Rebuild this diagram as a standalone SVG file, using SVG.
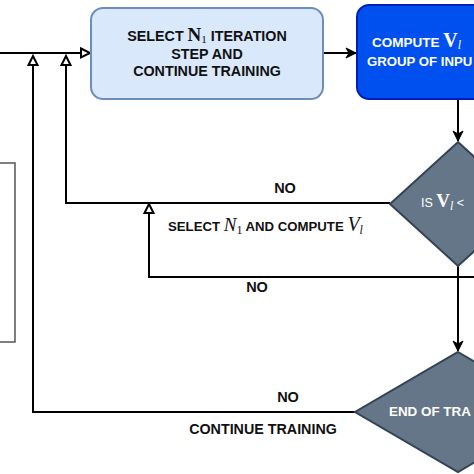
<svg xmlns="http://www.w3.org/2000/svg" width="474" height="474" viewBox="0 0 474 474">
<style>
.ln{fill:none;stroke:#000;stroke-width:2}
.lbl{font-family:"Liberation Sans",Arial,sans-serif;font-weight:bold;fill:#111}
.mth{font-family:"Liberation Serif","Times New Roman",serif}
.dia{fill:#647687;stroke:#314354;stroke-width:2}
</style>
<defs>
<marker id="open" markerUnits="userSpaceOnUse" markerWidth="14" markerHeight="14" refX="11" refY="6" orient="auto">
<path d="M2,1.5 L11,6 L2,10.5 Z" fill="#fff" stroke="#000" stroke-width="2"/>
</marker>
<marker id="fill" markerUnits="userSpaceOnUse" markerWidth="14" markerHeight="14" refX="11" refY="6" orient="auto">
<path d="M1,1 L11,6 L1,11 L4,6 Z" fill="#000" stroke="#000" stroke-width="1"/>
</marker>
</defs>
<rect x="-20" y="163" width="35" height="179" fill="#fff" stroke="#555" stroke-width="1.5"/>
<g id="connectors">
<path class="ln" d="M0,53 L90,53" marker-end="url(#open)"/>
<path class="ln" d="M323,53 L356,53" marker-end="url(#fill)"/>
<path class="ln" d="M458,99 L458,141" marker-end="url(#fill)"/>
<path class="ln" d="M390,203 L66,203 L66,56" marker-end="url(#open)"/>
<path class="ln" d="M474,277 L149,277 L149,204" marker-end="url(#open)"/>
<path class="ln" d="M458,266 L458,351" marker-end="url(#fill)"/>
<path class="ln" d="M355,412 L33,412 L33,56" marker-end="url(#open)"/>
</g>
<g id="n_select">
<rect x="91" y="8" width="232" height="91" rx="12" fill="#dae8fc" stroke="#6c8ebf" stroke-width="2"/>
<text class="lbl" font-size="14.3" x="207" y="41" text-anchor="middle">SELECT <tspan class="mth" font-size="19">N</tspan><tspan class="mth" font-weight="normal" font-size="11" dy="2">1</tspan><tspan dy="-2"> ITERATION</tspan></text>
<text class="lbl" font-size="14.3" x="207" y="59" text-anchor="middle">STEP AND</text>
<text class="lbl" font-size="14.3" x="207" y="76" text-anchor="middle">CONTINUE TRAINING</text>
</g>
<g id="n_compute">
<rect x="357" y="5" width="140" height="94" rx="12" fill="#0050ef" stroke="#001dbc" stroke-width="2"/>
<text class="lbl" font-size="13.5" x="372" y="47" style="fill:#fff">COMPUTE <tspan class="mth" font-size="20">V</tspan><tspan class="mth" font-style="italic" font-weight="normal" font-size="12" dy="2">l</tspan></text>
<text class="lbl" font-size="13.2" x="367" y="66" style="fill:#fff">GROUP OF INPU</text>
</g>
<g id="n_check">
<path class="dia" d="M458,142 L526,204 L458,266 L390,204 Z"/>
<text x="421" y="207" font-family="Liberation Sans,Arial,sans-serif" font-size="12.5" fill="#fff">IS <tspan class="mth" font-weight="bold" font-size="19">V</tspan><tspan class="mth" font-style="italic" font-size="12" dy="3">l</tspan><tspan dy="-3"> &lt;</tspan></text>
</g>
<g id="n_end">
<path class="dia" d="M458,352 L561,412 L458,472 L355,412 Z"/>
<text class="lbl" font-size="13.4" x="389" y="416" style="fill:#fff">END OF TRA</text>
</g>
<g id="labels">
<text class="lbl" font-size="14.5" x="285" y="193" text-anchor="middle">NO</text>
<text class="lbl" font-size="13.2" x="168" y="231">SELECT <tspan class="mth" font-style="italic" font-weight="normal" font-size="19">N</tspan><tspan class="mth" font-weight="normal" font-size="12" dy="3">1</tspan><tspan dy="-3">  AND COMPUTE </tspan><tspan class="mth" font-style="italic" font-weight="normal" font-size="20">V</tspan><tspan class="mth" font-style="italic" font-weight="normal" font-size="12" dy="3">l</tspan></text>
<text class="lbl" font-size="14.5" x="257" y="292" text-anchor="middle">NO</text>
<text class="lbl" font-size="14.5" x="288" y="402" text-anchor="middle">NO</text>
<text class="lbl" font-size="14.3" x="263" y="434" text-anchor="middle">CONTINUE TRAINING</text>
</g>
</svg>
